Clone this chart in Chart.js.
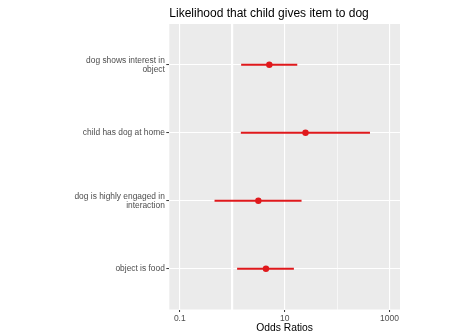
<!DOCTYPE html>
<html>
<head>
<meta charset="utf-8">
<script src="https://cdn.jsdelivr.net/npm/chart.js@4.4.1/dist/chart.umd.min.js"></script>
<style>
  html, body { margin: 0; padding: 0; background: #ffffff; }
  #wrap { width: 474px; height: 336px; position: relative; }
</style>
</head>
<body>
<div id="wrap"><canvas id="c" width="474" height="336"></canvas></div>
<script>
// Predictors, listed top to bottom
const categories = [
  ['dog shows interest in', 'object'],
  'child has dog at home',
  ['dog is highly engaged in', 'interaction'],
  'object is food'
];
// Odds ratios with 95% confidence bounds
const oddsRatios = [5.1, 25, 3.15, 4.4];
const ciLower = [1.48, 1.46, 0.46, 1.24];
const ciUpper = [17.4, 424, 21, 15];
// Odds-ratio axis
const xTicks = [0.1, 1, 10, 100, 1000];
const xTickLabels = ['0.1', '', '10', '', '1000'];

const RED = '#E0191C';
const FONT = "'Liberation Sans', Arial, Helvetica, sans-serif";

// one dataset per interval, drawn as a flat line between its bounds
const intervalSets = categories.map((c, i) => ({
  type: 'line',
  data: [{ x: ciLower[i], y: i + 1 }, { x: ciUpper[i], y: i + 1 }],
  borderColor: RED,
  borderWidth: 2,
  pointRadius: 0,
  showLine: true,
  fill: false
}));

const pointSet = {
  type: 'scatter',
  data: oddsRatios.map((v, i) => ({ x: v, y: i + 1 })),
  backgroundColor: RED,
  borderWidth: 0,
  pointRadius: 3.2,
  showLine: false
};

const panelBg = {
  id: 'panelBg',
  beforeDraw(chart) {
    const { ctx, chartArea: a } = chart;
    ctx.save();
    ctx.fillStyle = '#EBEBEB';
    ctx.fillRect(a.left, a.top, a.right - a.left, a.bottom - a.top);
    ctx.restore();
  }
};

const plotTitle = {
  id: 'plotTitle',
  afterDraw(chart) {
    const { ctx, chartArea: a } = chart;
    ctx.save();
    ctx.font = '12px ' + FONT;
    ctx.fillStyle = '#000000';
    ctx.textAlign = 'left';
    ctx.textBaseline = 'middle';
    ctx.fillText('Likelihood that child gives item to dog', a.left, 13.5);
    ctx.restore();
  }
};

new Chart(document.getElementById('c'), {
  type: 'scatter',
  data: { datasets: [...intervalSets, pointSet] },
  plugins: [panelBg, plotTitle],
  options: {
    responsive: false,
    animation: false,
    layout: { padding: { top: 24, right: 74, left: 0, bottom: 0 } },
    plugins: { legend: { display: false }, tooltip: { enabled: false }, title: { display: false } },
    scales: {
      x: {
        type: 'logarithmic',
        min: Math.pow(10, -1.2),
        max: Math.pow(10, 3.2),
        afterBuildTicks(scale) { scale.ticks = xTicks.map(v => ({ value: v })); },
        afterFit(scale) { scale.height = 26.5; },
        border: { display: false },
        grid: {
          color: '#FFFFFF',
          lineWidth: ctx => ctx.tick && ctx.tick.value === 1 ? 2.2 : (ctx.tick && ctx.tick.value === 100 ? 0.6 : 1.1),
          tickLength: 2.5,
          tickWidth: 1,
          tickColor: ctx => ctx.tick && (ctx.tick.value === 1 || ctx.tick.value === 100) ? 'rgba(0,0,0,0)' : '#333333'
        },
        ticks: {
          autoSkip: false,
          maxRotation: 0,
          padding: 1.5,
          color: '#4D4D4D',
          font: { family: FONT, size: 8.5 },
          callback: (v) => { const k = xTicks.indexOf(v); return k >= 0 ? xTickLabels[k] : ''; }
        },
        title: {
          display: true,
          text: 'Odds Ratios',
          color: '#000000',
          font: { family: FONT, size: 10.3 },
          padding: { top: 0, bottom: 1.2 }
        }
      },
      y: {
        type: 'linear',
        reverse: true,
        min: 0.4,
        max: 4.6,
        afterBuildTicks(scale) { scale.ticks = categories.map((c, i) => ({ value: i + 1 })); },
        afterFit(scale) { scale.width = 169.3; },
        border: { display: false },
        grid: {
          color: '#FFFFFF',
          lineWidth: 1.1,
          tickLength: 3,
          tickWidth: 1,
          tickColor: '#333333'
        },
        ticks: {
          autoSkip: false,
          padding: 1.5,
          color: '#4D4D4D',
          font: { family: FONT, size: 8.4, lineHeight: 1.08 },
          callback: (v) => categories[Math.round(v) - 1]
        }
      }
    }
  }
});
</script>
</body>
</html>
